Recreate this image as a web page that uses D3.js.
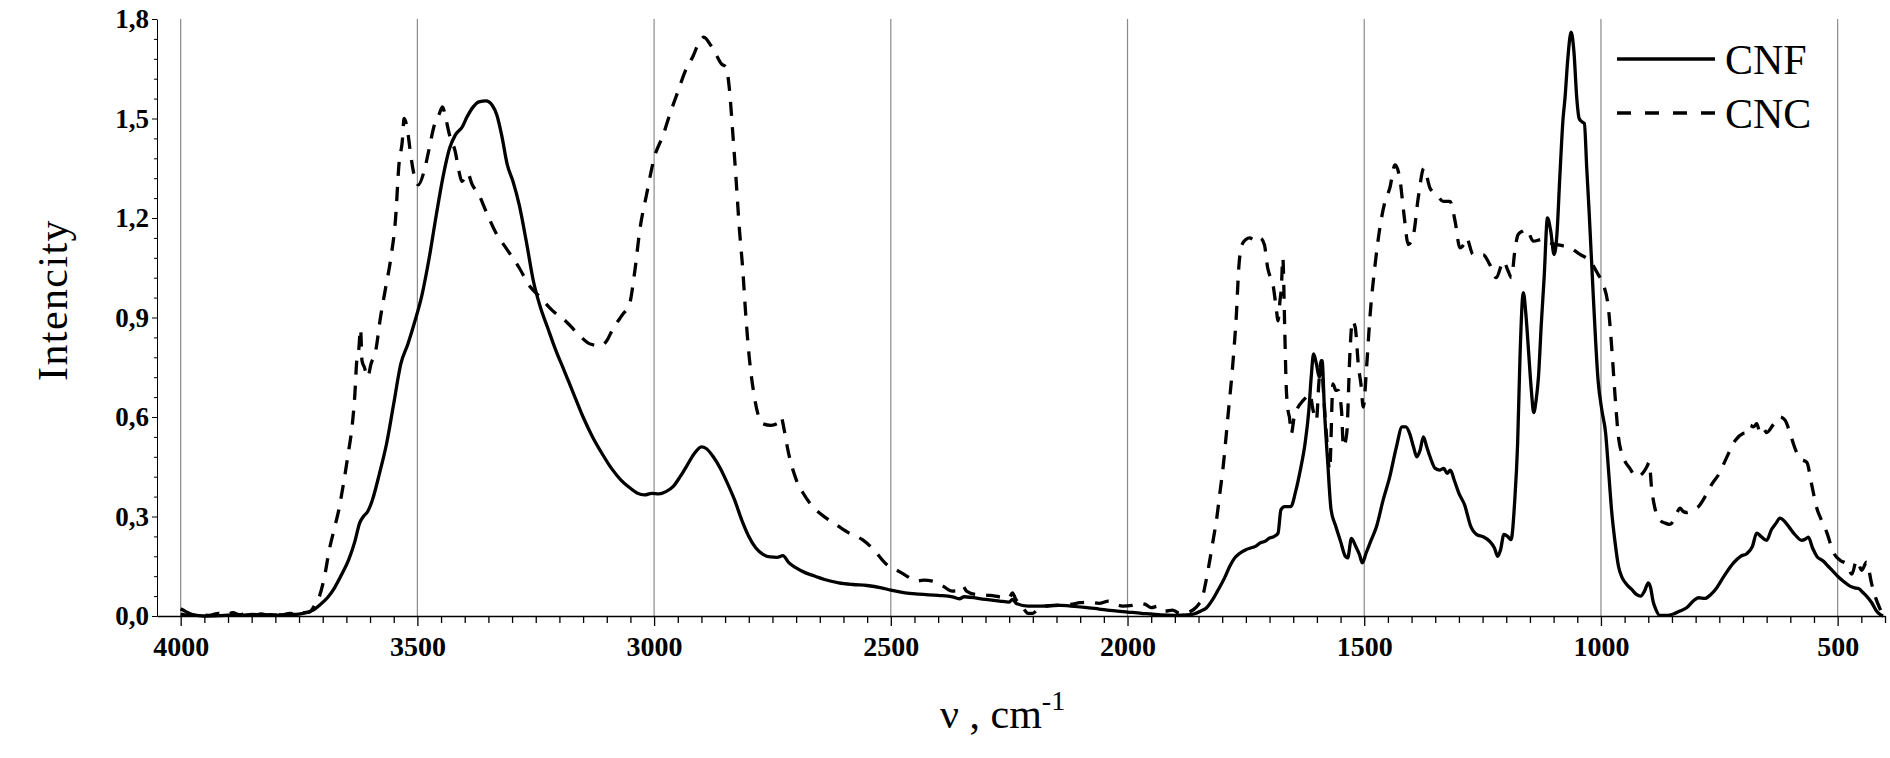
<!DOCTYPE html>
<html lang="en">
	<head>
		<meta charset="UTF-8">
		<title>CNF / CNC spectra</title>
		<script src="https://d3js.org/d3.v7.min.js"></script>
		<style>
			body { margin: 0; background: #ffffff; }
			svg text { font-family: "Liberation Serif", "Times New Roman", serif; fill: #000000; }
			.xlab text { font-size: 28px; font-weight: 700; }
			.ylab text { font-size: 27px; font-weight: 700; }
		</style>
	</head>
	<body>
		<div id="chart"></div>
		<script>
			// wavenumber (cm-1), intensity
			const cnf = [
				[4000,0.022],[3990,0.014],[3975,0.004],[3950,0.0],[3920,0.001],[3890,0.003],[3870,0.002],[3850,0.005],[3830,0.003],[3810,0.004],
				[3790,0.002],[3770,0.004],[3750,0.006],[3735,0.01],[3720,0.018],[3705,0.035],[3690,0.055],[3675,0.085],[3660,0.125],[3645,0.17],
				[3632,0.225],[3622,0.28],[3614,0.3],[3605,0.315],[3595,0.35],[3580,0.43],[3565,0.52],[3550,0.64],[3535,0.76],[3520,0.82],
				[3505,0.89],[3490,0.97],[3475,1.08],[3460,1.21],[3445,1.33],[3432,1.41],[3420,1.45],[3405,1.475],[3395,1.505],[3382,1.535],
				[3370,1.55],[3355,1.553],[3342,1.54],[3332,1.51],[3322,1.45],[3310,1.36],[3298,1.31],[3285,1.24],[3270,1.13],[3255,1.01],
				[3240,0.93],[3225,0.87],[3210,0.81],[3190,0.74],[3170,0.67],[3150,0.6],[3130,0.54],[3110,0.49],[3090,0.445],[3070,0.41],
				[3050,0.385],[3035,0.37],[3020,0.365],[3005,0.37],[2990,0.368],[2975,0.375],[2960,0.39],[2945,0.42],[2930,0.455],[2915,0.49],
				[2900,0.51],[2890,0.505],[2875,0.48],[2860,0.445],[2845,0.4],[2830,0.35],[2815,0.29],[2800,0.24],[2785,0.205],[2770,0.186],
				[2755,0.178],[2740,0.177],[2728,0.182],[2715,0.16],[2700,0.145],[2680,0.13],[2660,0.12],[2640,0.11],[2610,0.1],[2580,0.095],
				[2550,0.092],[2520,0.085],[2500,0.078],[2470,0.07],[2440,0.066],[2400,0.062],[2370,0.058],[2355,0.052],[2345,0.058],[2300,0.05],
				[2270,0.045],[2250,0.042],[2243,0.05],[2235,0.038],[2210,0.03],[2180,0.03],[2150,0.033],[2120,0.03],[2090,0.026],[2060,0.021],
				[2030,0.016],[2000,0.012],[1970,0.008],[1950,0.006],[1930,0.003],[1900,0.002],[1875,0.003],[1860,0.006],[1845,0.015],[1833,0.025],
				[1820,0.05],[1810,0.075],[1795,0.115],[1784,0.15],[1772,0.178],[1762,0.19],[1750,0.2],[1740,0.205],[1730,0.21],[1720,0.22],
				[1710,0.225],[1700,0.235],[1690,0.24],[1682,0.25],[1676,0.32],[1668,0.33],[1655,0.33],[1645,0.375],[1635,0.44],[1625,0.52],
				[1617,0.62],[1612,0.72],[1607,0.79],[1601,0.76],[1595,0.72],[1589,0.77],[1584,0.62],[1577,0.46],[1570,0.32],[1560,0.27],
				[1550,0.225],[1540,0.18],[1535,0.175],[1527,0.234],[1518,0.21],[1510,0.185],[1504,0.16],[1496,0.19],[1485,0.23],[1474,0.27],
				[1460,0.35],[1446,0.42],[1432,0.51],[1420,0.57],[1412,0.57],[1404,0.55],[1396,0.51],[1389,0.48],[1382,0.5],[1375,0.54],
				[1368,0.51],[1361,0.48],[1350,0.445],[1340,0.44],[1332,0.445],[1325,0.43],[1318,0.44],[1310,0.41],[1300,0.37],[1288,0.335],
				[1275,0.27],[1262,0.245],[1249,0.239],[1235,0.225],[1225,0.205],[1218,0.18],[1212,0.2],[1205,0.246],[1197,0.24],[1190,0.23],
				[1182,0.35],[1176,0.52],[1171,0.78],[1164,0.975],[1158,0.9],[1153,0.8],[1147,0.68],[1142,0.613],[1137,0.65],[1132,0.72],
				[1126,0.88],[1120,1.02],[1113,1.2],[1106,1.16],[1099,1.09],[1093,1.15],[1087,1.32],[1080,1.5],[1076,1.56],[1070,1.68],
				[1063,1.76],[1057,1.7],[1051,1.56],[1046,1.5],[1040,1.49],[1035,1.485],[1030,1.35],[1025,1.22],[1016,0.96],[1006,0.71],
				[998,0.62],[990,0.55],[984,0.44],[977,0.31],[970,0.22],[963,0.15],[955,0.115],[946,0.096],[935,0.08],[925,0.065],
				[916,0.06],[908,0.075],[900,0.1],[895,0.085],[890,0.045],[884,0.02],[876,0.002],[860,0.002],[847,0.006],[833,0.015],
				[819,0.025],[805,0.045],[794,0.055],[780,0.053],[768,0.065],[756,0.084],[740,0.12],[720,0.16],[705,0.18],[692,0.188],
				[680,0.21],[671,0.25],[662,0.24],[650,0.228],[640,0.26],[630,0.28],[622,0.295],[612,0.285],[601,0.265],[590,0.245],
				[576,0.228],[568,0.232],[562,0.238],[553,0.205],[544,0.18],[530,0.165],[520,0.15],[510,0.135],[500,0.12],[488,0.105],
				[474,0.09],[464,0.085],[456,0.083],[446,0.07],[439,0.06],[428,0.04],[418,0.015],[410,0.004],[404,0.0]
			];

			const cnc = [
				[4000,0.006],[3980,0.002],[3960,0.004],[3940,0.002],[3920,0.008],[3905,0.003],[3890,0.01],[3875,0.004],[3860,0.008],[3845,0.003],
				[3830,0.006],[3815,0.002],[3800,0.006],[3785,0.003],[3770,0.008],[3755,0.005],[3740,0.01],[3728,0.012],[3718,0.03],[3708,0.055],
				[3696,0.12],[3686,0.2],[3676,0.26],[3666,0.32],[3656,0.4],[3645,0.5],[3638,0.57],[3632,0.67],[3628,0.77],[3624,0.8],
				[3620,0.866],[3617,0.77],[3612,0.75],[3605,0.72],[3598,0.76],[3588,0.8],[3578,0.9],[3567,0.99],[3556,1.08],[3546,1.2],
				[3539,1.36],[3532,1.43],[3528,1.5],[3521,1.465],[3514,1.39],[3507,1.33],[3498,1.3],[3486,1.34],[3475,1.41],[3465,1.476],
				[3454,1.513],[3447,1.535],[3440,1.5],[3432,1.45],[3420,1.4],[3412,1.34],[3406,1.31],[3394,1.335],[3384,1.3],[3370,1.27],
				[3355,1.22],[3334,1.155],[3313,1.11],[3285,1.05],[3263,0.995],[3242,0.963],[3214,0.92],[3186,0.888],[3157,0.845],[3135,0.82],
				[3112,0.815],[3100,0.83],[3087,0.866],[3066,0.91],[3052,0.94],[3041,1.037],[3030,1.166],[3016,1.27],[3000,1.38],[2981,1.45],
				[2965,1.52],[2950,1.58],[2935,1.64],[2917,1.69],[2905,1.73],[2895,1.745],[2880,1.72],[2868,1.69],[2858,1.665],[2848,1.655],
				[2841,1.59],[2834,1.46],[2827,1.32],[2820,1.17],[2813,1.05],[2806,0.9],[2799,0.78],[2789,0.668],[2771,0.58],[2753,0.575],
				[2740,0.58],[2732,0.6],[2725,0.56],[2718,0.505],[2700,0.412],[2685,0.37],[2665,0.33],[2637,0.296],[2610,0.27],[2588,0.25],
				[2560,0.23],[2538,0.203],[2510,0.157],[2482,0.134],[2460,0.115],[2447,0.105],[2430,0.108],[2412,0.105],[2390,0.09],[2370,0.075],
				[2355,0.078],[2348,0.09],[2340,0.075],[2320,0.065],[2306,0.064],[2290,0.062],[2270,0.058],[2250,0.055],[2243,0.07],[2236,0.05],
				[2225,0.035],[2210,0.008],[2200,0.008],[2190,0.02],[2170,0.03],[2145,0.032],[2120,0.035],[2100,0.04],[2082,0.042],[2060,0.038],
				[2040,0.045],[2025,0.035],[2010,0.03],[1990,0.032],[1975,0.038],[1962,0.035],[1950,0.025],[1935,0.03],[1920,0.015],[1905,0.018],
				[1890,0.008],[1875,0.01],[1860,0.02],[1850,0.035],[1843,0.05],[1835,0.1],[1826,0.17],[1819,0.23],[1812,0.29],[1805,0.37],
				[1798,0.45],[1788,0.6],[1777,0.77],[1770,0.91],[1765,1.05],[1758,1.12],[1750,1.135],[1742,1.14],[1735,1.135],[1728,1.13],
				[1720,1.14],[1711,1.12],[1704,1.05],[1698,1.02],[1693,1.0],[1686,0.93],[1682,0.89],[1678,0.95],[1675,0.99],[1672,1.08],
				[1668,0.87],[1665,0.7],[1661,0.62],[1658,0.6],[1654,0.55],[1648,0.6],[1643,0.62],[1629,0.65],[1622,0.66],[1615,0.67],
				[1608,0.62],[1601,0.59],[1596,0.7],[1591,0.77],[1585,0.65],[1580,0.55],[1573,0.44],[1566,0.7],[1560,0.68],[1555,0.68],
				[1548,0.62],[1544,0.51],[1537,0.55],[1530,0.8],[1525,0.89],[1519,0.87],[1512,0.75],[1507,0.7],[1502,0.63],[1495,0.75],
				[1488,0.9],[1477,1.06],[1467,1.17],[1456,1.25],[1446,1.29],[1435,1.36],[1425,1.32],[1416,1.21],[1407,1.12],[1396,1.15],
				[1386,1.26],[1374,1.35],[1361,1.29],[1347,1.27],[1333,1.25],[1319,1.25],[1308,1.19],[1298,1.11],[1290,1.12],[1284,1.14],
				[1270,1.09],[1249,1.09],[1235,1.06],[1221,1.02],[1206,1.07],[1196,1.04],[1189,1.02],[1182,1.1],[1175,1.15],[1166,1.16],
				[1157,1.166],[1143,1.13],[1122,1.136],[1111,1.127],[1087,1.118],[1065,1.11],[1044,1.09],[1023,1.07],[1006,1.03],[995,1.0],
				[984,0.925],[977,0.805],[970,0.66],[963,0.54],[953,0.48],[939,0.445],[925,0.42],[911,0.432],[903,0.45],[898,0.463],
				[893,0.385],[886,0.325],[875,0.288],[864,0.28],[854,0.276],[843,0.3],[833,0.325],[826,0.315],[819,0.312],[806,0.32],
				[794,0.33],[780,0.36],[766,0.397],[750,0.43],[737,0.47],[716,0.53],[700,0.55],[692,0.553],[685,0.575],[678,0.57],
				[671,0.58],[664,0.553],[657,0.565],[650,0.553],[636,0.577],[622,0.6],[611,0.59],[601,0.553],[590,0.505],[580,0.475],
				[565,0.463],[555,0.397],[544,0.325],[534,0.288],[523,0.252],[509,0.192],[495,0.168],[481,0.156],[470,0.126],[460,0.168],
				[449,0.138],[439,0.162],[428,0.096],[418,0.048],[410,0.02],[404,0.0]
			];

			const xTicks = [4000, 3500, 3000, 2500, 2000, 1500, 1000, 500];
			const yTicks = [0, 0.3, 0.6, 0.9, 1.2, 1.5, 1.8];
			const yTickLabels = ["0,0", "0,3", "0,6", "0,9", "1,2", "1,5", "1,8"];
			const seriesNames = ["CNF", "CNC"];

			const W = 1890, H = 758;
			const mLeft = 157, mRight = 1885, mTop = 19, mBottom = 616;

			const svg = d3.select("#chart").append("svg")
				.attr("width", W)
				.attr("height", H)
				.style("background", "#ffffff");

			const x = d3.scaleLinear().domain([4050, 400]).range([mLeft, mRight]);
			const y = d3.scaleLinear().domain([0, 1.8]).range([mBottom, mTop]);

			// vertical grid
			svg.append("g")
				.selectAll("line")
				.data(xTicks)
				.enter()
				.append("line")
				.attr("x1", d => x(d)).attr("x2", d => x(d))
				.attr("y1", y(1.8)).attr("y2", y(0))
				.attr("stroke", "#8a8a8a")
				.attr("stroke-width", 1.2);

			// x axis: minor every 50, major every 500
			const xMinor = d3.range(4000, 399, -50).filter(d => xTicks.indexOf(d) < 0);
			svg.append("g")
				.attr("transform", "translate(0," + mBottom + ")")
				.call(d3.axisBottom(x).tickValues(xMinor).tickSize(7).tickSizeOuter(0).tickFormat(""))
				.call(g => g.select(".domain").remove())
				.selectAll("line").attr("stroke-width", 1.3);

			const xAxis = svg.append("g")
				.attr("class", "xlab")
				.attr("transform", "translate(0," + mBottom + ")")
				.call(d3.axisBottom(x).tickValues(xTicks).tickSize(10).tickSizeOuter(0).tickPadding(10).tickFormat(d => d));
			xAxis.select(".domain").attr("stroke-width", 1.6);
			xAxis.selectAll("line").attr("stroke-width", 1.3);
			xAxis.selectAll("text").attr("font-family", null).attr("font-size", null);

			// y axis: minor every 0.06
			const yMinor = d3.range(0, 31).map(i => i * 0.06).filter(d => Math.abs(d / 0.3 - Math.round(d / 0.3)) > 0.01);
			svg.append("g")
				.attr("transform", "translate(" + mLeft + ",0)")
				.call(d3.axisLeft(y).tickValues(yMinor).tickSize(3).tickSizeOuter(0).tickFormat(""))
				.call(g => g.select(".domain").remove());

			const yAxis = svg.append("g")
				.attr("class", "ylab")
				.attr("transform", "translate(" + mLeft + ",0)")
				.call(d3.axisLeft(y).tickValues(yTicks).tickSize(5).tickSizeOuter(0).tickPadding(3)
					.tickFormat((d, i) => yTickLabels[i]));
			yAxis.selectAll("text").attr("font-family", null).attr("font-size", null);

			// spectra
			const line = d3.line()
				.x(d => x(d[0]))
				.y(d => y(d[1]))
				.curve(d3.curveMonotoneX);

			svg.append("path")
				.datum(cnc)
				.attr("d", line)
				.attr("fill", "none")
				.attr("stroke", "#000")
				.attr("stroke-width", 3.3)
				.attr("stroke-dasharray", "14,11");

			svg.append("path")
				.datum(cnf)
				.attr("d", line)
				.attr("fill", "none")
				.attr("stroke", "#000")
				.attr("stroke-width", 3.3)
				.attr("stroke-linejoin", "round");

			// legend
			const legend = svg.append("g");
			seriesNames.forEach(function (name, i) {
				const ly = 59 + i * 54;
				legend.append("line")
					.attr("x1", 1617).attr("x2", 1715)
					.attr("y1", ly).attr("y2", ly)
					.attr("stroke", "#000")
					.attr("stroke-width", 3.3)
					.attr("stroke-dasharray", i == 0 ? null : "14,14");
				legend.append("text")
					.attr("x", 1725)
					.attr("y", ly + 15)
					.attr("font-size", 42)
					.text(name);
			});

			// axis titles
			svg.append("text")
				.attr("transform", "translate(67,300) rotate(-90)")
				.attr("text-anchor", "middle")
				.attr("font-size", 42)
				.attr("letter-spacing", 1.4)
				.text("Intencity");

			const xt = svg.append("text")
				.attr("x", 940)
				.attr("y", 728)
				.attr("font-size", 42);
			xt.append("tspan").text("ν , cm");
			xt.append("tspan").attr("dy", -18).attr("font-size", 28).text("-1");
		</script>
	</body>
</html>
